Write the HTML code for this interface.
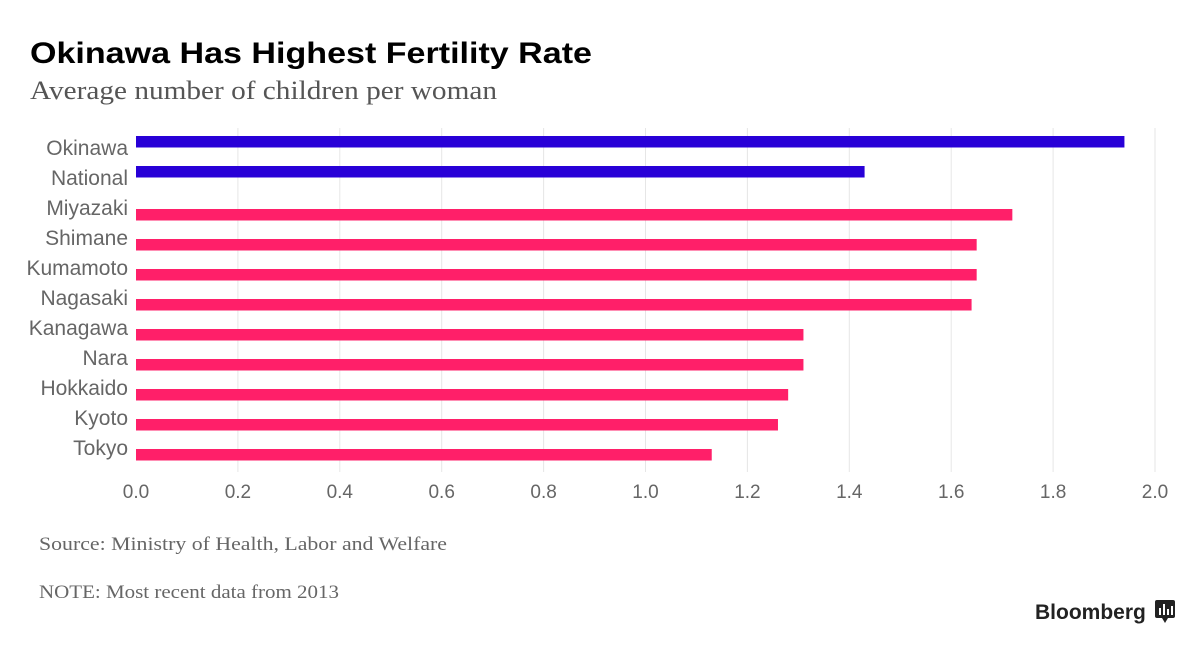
<!DOCTYPE html>
<html><head><meta charset="utf-8"><style>
body{margin:0;background:#fff;width:1200px;height:649px;overflow:hidden;font-family:"Liberation Sans",sans-serif}
</style></head><body>
<svg width="1200" height="649">
<text x="30" y="63" font-family="Liberation Sans" font-weight="bold" font-size="30" fill="#000" textLength="562" lengthAdjust="spacingAndGlyphs">Okinawa Has Highest Fertility Rate</text>
<text x="30" y="99" font-family="Liberation Serif" font-size="26" fill="#555" textLength="467" lengthAdjust="spacingAndGlyphs">Average number of children per woman</text>
<g id="grid"></g>
<g id="bars"></g>
<g id="labels"></g>
<g id="ticks"></g>
<text x="39" y="550" font-family="Liberation Serif" font-size="19" fill="#666" textLength="408" lengthAdjust="spacingAndGlyphs">Source: Ministry of Health, Labor and Welfare</text>
<text x="39" y="598" font-family="Liberation Serif" font-size="19" fill="#666" textLength="300" lengthAdjust="spacingAndGlyphs">NOTE: Most recent data from 2013</text>
<text x="1035" y="619" font-family="Liberation Sans" font-weight="bold" font-size="21" fill="#222">Bloomberg</text>
<g><rect x="1155" y="600" width="20" height="18" rx="2" fill="#222"/><polygon points="1162,618 1168,618 1165,623" fill="#222"/><rect x="1159" y="608" width="2" height="7" fill="#fff"/><rect x="1163" y="604" width="2" height="11" fill="#fff"/><rect x="1167" y="609" width="2" height="6" fill="#fff"/><rect x="1171" y="606" width="2" height="9" fill="#fff"/></g>
</svg>
<script>
const categories=["Okinawa","National","Miyazaki","Shimane","Kumamoto","Nagasaki","Kanagawa","Nara","Hokkaido","Kyoto","Tokyo"];
const values=[1.94,1.43,1.72,1.65,1.65,1.64,1.31,1.31,1.28,1.26,1.13];
const highlight=[1,1,0,0,0,0,0,0,0,0,0];
const tickValues=[0,0.2,0.4,0.6,0.8,1.0,1.2,1.4,1.6,1.8,2.0];
const tickLabels=["0.0","0.2","0.4","0.6","0.8","1.0","1.2","1.4","1.6","1.8","2.0"];
const NS="http://www.w3.org/2000/svg";
const x0=136,x1=1155,xMax=2.0;
function xs(v){return x0+(x1-x0)*v/xMax;}
function ys(i){return 136+i*30+(highlight[i]?0:13);}
function mk(tag,attrs,parent){const e=document.createElementNS(NS,tag);for(const k in attrs)e.setAttribute(k,attrs[k]);document.getElementById(parent).appendChild(e);return e;}
tickValues.forEach((t,i)=>{
  if(i>0){const l=mk("line",{x1:xs(t),x2:xs(t),y1:128,y2:472,stroke:"#e6e6e6","stroke-width":1},"grid");
  
  }
  const tx=mk("text",{x:xs(t),y:498,"text-anchor":"middle","font-size":19,fill:"#666","font-family":"Liberation Sans"},"ticks");
  tx.textContent=tickLabels[i];
  
  
});
categories.forEach((c,i)=>{
  const r=mk("rect",{x:x0,y:ys(i),width:xs(values[i])-x0,height:11.5,fill:highlight[i]?"#2800d7":"#ff1f69"},"bars");
  
  
  const t=mk("text",{x:128,y:155+i*30,"text-anchor":"end","font-size":21,fill:"#666","font-family":"Liberation Sans"},"labels");
  t.textContent=c;
  
  
});
</script>
</body></html>
